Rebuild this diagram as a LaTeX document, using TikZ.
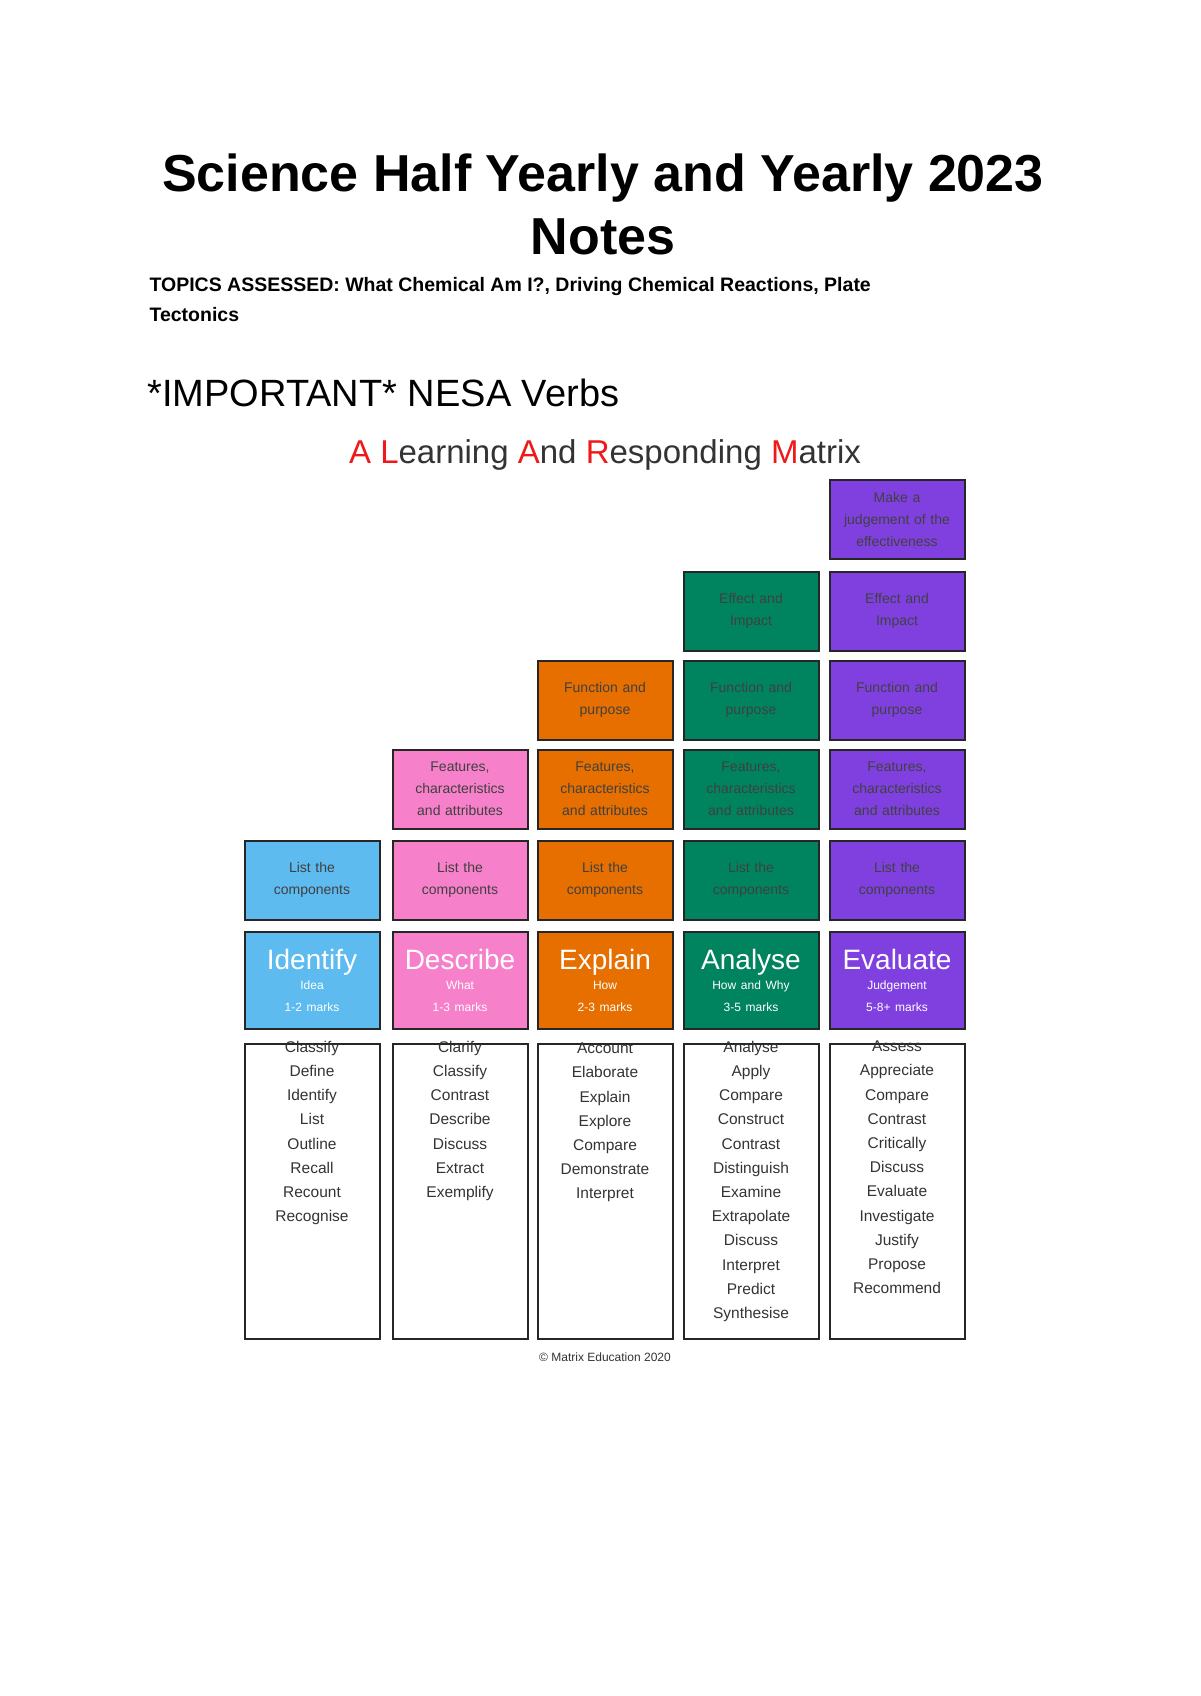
\documentclass[tikz,border=0pt]{standalone}
\usepackage{fontspec}
\setmainfont{Liberation Sans}
\definecolor{cblue}{HTML}{5DBBEF}
\definecolor{cpink}{HTML}{F780CB}
\definecolor{corange}{HTML}{E66F00}
\definecolor{cgreen}{HTML}{00845F}
\definecolor{cpurple}{HTML}{8040E0}
\definecolor{mred}{HTML}{F01818}
\begin{document}
\begin{tikzpicture}[x=1pt,y=-1pt,
  box/.style={draw=black!85,line width=2pt,minimum width=135pt,minimum height=79pt,inner sep=0pt,align=center,text width=130pt,font=\fontsize{14}{22}\selectfont,text=black!75},
  head/.style={box,minimum height=97pt,text=white},
  verbs/.style={draw=black!85,line width=2pt,minimum width=135pt,minimum height=295pt,inner sep=0pt},
  vtxt/.style={anchor=north,align=center,font=\fontsize{15.5}{24.2}\selectfont,text=black!80}]
\useasboundingbox (0,0) rectangle (1200,1696);
\node[font=\bfseries\fontsize{52}{58}\selectfont] (t1) at (603,178) {Science Half Yearly and Yearly 2023};
\node[font=\bfseries\fontsize{52}{58}\selectfont] (t2) at (603,237) {Notes};
\node[anchor=west,font=\bfseries\fontsize{19.5}{24}\selectfont,align=left] (top1) at (146,287) {TOPICS ASSESSED: What Chemical Am I?, Driving Chemical Reactions, Plate};
\node[anchor=west,font=\bfseries\fontsize{19.5}{24}\selectfont] (top2) at (146,315) {Tectonics};
\node[anchor=west,font=\fontsize{38}{44}\selectfont] (imp) at (144,393) {*IMPORTANT* NESA Verbs};
\node[font=\fontsize{33}{40}\selectfont,text=black!80] (mt) at (605,455) {\textcolor{mred}{A} \textcolor{mred}{L}earning \textcolor{mred}{A}nd \textcolor{mred}{R}esponding \textcolor{mred}{M}atrix};
% columns centres: 312, 460, 605, 751, 897
\node[box,fill=cpurple] (e5) at (897,519) {Make a\\judgement of the\\effectiveness};
\node[box,fill=cgreen] (a4) at (751,611) {Effect and\\Impact};
\node[box,fill=cpurple] (e4) at (897,611) {Effect and\\Impact};
\node[box,fill=corange] (x3) at (605,700) {Function and\\purpose};
\node[box,fill=cgreen] (a3) at (751,700) {Function and\\purpose};
\node[box,fill=cpurple] (e3) at (897,700) {Function and\\purpose};
\foreach \n/\c/\x in {d2/cpink/460,x2/corange/605,a2/cgreen/751,e2/cpurple/897}
  \node[box,fill=\c] (\n) at (\x,789) {Features,\\characteristics\\and attributes};
\foreach \n/\c/\x in {i1/cblue/312,d1/cpink/460,x1/corange/605,a1/cgreen/751,e1/cpurple/897}
  \node[box,fill=\c] (\n) at (\x,880) {List the\\components};
\foreach \n/\c/\x/\h/\s/\m in {ih/cblue/312/Identify/Idea/1-2 marks,dh/cpink/460/Describe/What/1-3 marks,xh/corange/605/Explain/How/2-3 marks,ah/cgreen/751/Analyse/How and Why/3-5 marks,eh/cpurple/897/Evaluate/Judgement/5-8+ marks}
  \node[head,fill=\c] (\n) at (\x,980) {{\fontsize{28}{34}\selectfont \h}\\[-2pt]{\fontsize{12}{24}\selectfont \s}\\{\fontsize{12}{14}\selectfont \m}};
\foreach \n/\x in {iv/312,dv/460,xv/605,av/751,ev/897}
  \node[verbs] (\n) at (\x,1191) {};
\node[vtxt] (ivt) at ([yshift=5pt]iv.north) {Classify\\Define\\Identify\\List\\Outline\\Recall\\Recount\\Recognise};
\node[vtxt] (dvt) at ([yshift=5pt]dv.north) {Clarify\\Classify\\Contrast\\Describe\\Discuss\\Extract\\Exemplify};
\node[vtxt] (xvt) at ([yshift=3pt]xv.north) {Account\\Elaborate\\Explain\\Explore\\Compare\\Demonstrate\\Interpret};
\node[vtxt] (avt) at ([yshift=5pt]av.north) {Analyse\\Apply\\Compare\\Construct\\Contrast\\Distinguish\\Examine\\Extrapolate\\Discuss\\Interpret\\Predict\\Synthesise};
\node[vtxt] (evt) at ([yshift=5pt]ev.north) {Assess\\Appreciate\\Compare\\Contrast\\Critically\\Discuss\\Evaluate\\Investigate\\Justify\\Propose\\Recommend};
\node[font=\fontsize{12}{14}\selectfont,text=black!80] (cp) at (605,1357) {© Matrix Education 2020};
\end{tikzpicture}
\end{document}
